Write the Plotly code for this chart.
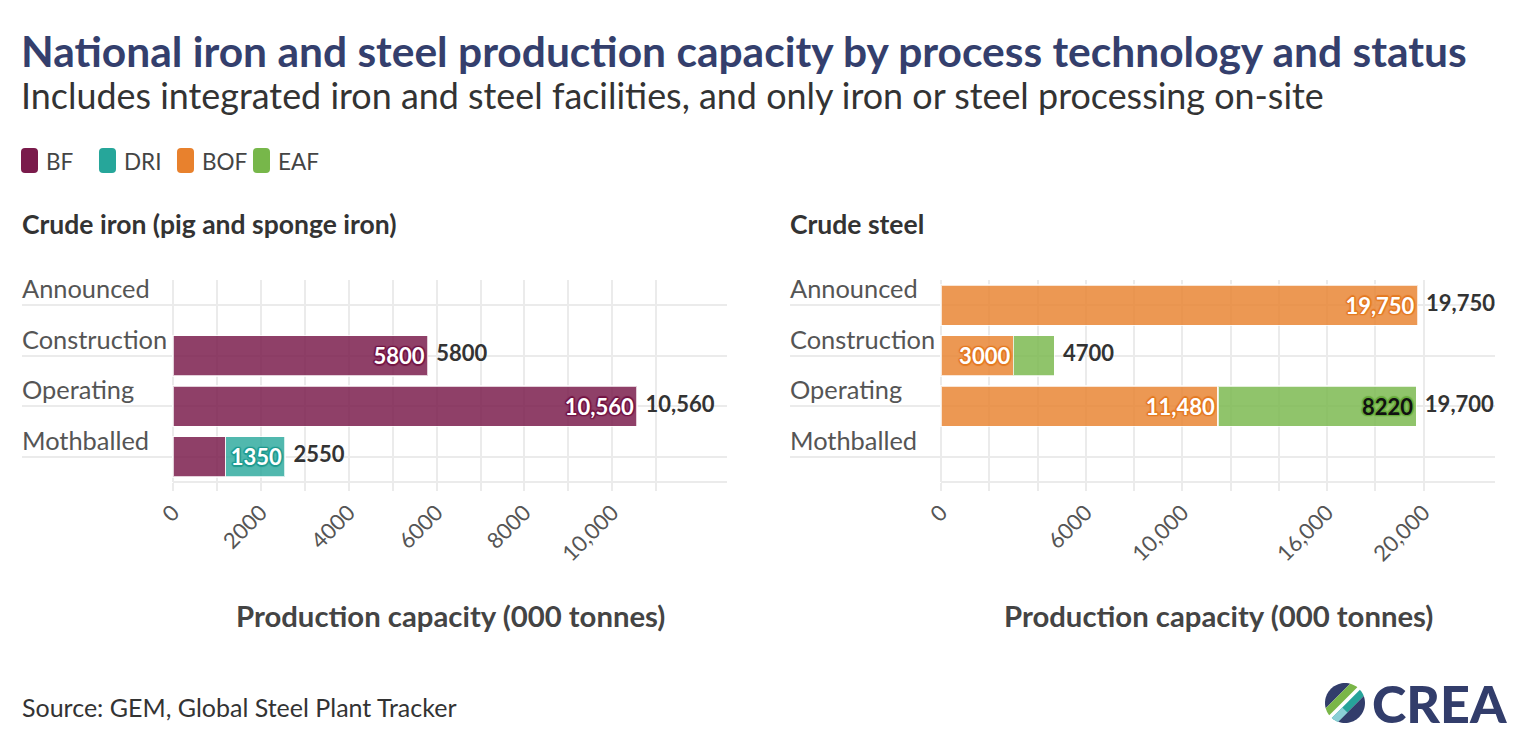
import math
import plotly.graph_objects as go

W, H = 1536, 756
FONT = "Lato"

# ---------------- data ----------------
statuses = ["Announced", "Construction", "Operating", "Mothballed"]

iron_bf = [None, 5800, 10560, 1200]
iron_dri = [None, None, None, 1350]
steel_bof = [19750, 3000, 11480, None]
steel_eaf = [None, 1700, 8220, None]

# whether a segment carries its own value label inside the bar
iron_bf_show = [False, True, True, False]
iron_dri_show = [False, False, False, True]
steel_bof_show = [True, True, True, False]
steel_eaf_show = [False, False, True, False]

iron_tickvals = [0, 1000, 2000, 3000, 4000, 5000, 6000, 7000, 8000, 9000, 10000, 11000]
iron_ticktext = ["0", "", "2000", "", "4000", "", "6000", "", "8000", "", "10,000", ""]
steel_tickvals = [0, 2000, 4000, 6000, 8000, 10000, 12000, 14000, 16000, 18000, 20000]
steel_ticktext = ["0", "", "", "6000", "", "10,000", "", "", "16,000", "", "20,000"]

COL = {"BF": "#7a1b4b", "DRI": "#26a69a", "BOF": "#e8812d", "EAF": "#77b74a"}
FILL = {"BF": "rgba(122,27,75,0.84)", "DRI": "rgba(38,166,154,0.80)",
        "BOF": "rgba(232,129,45,0.82)", "EAF": "rgba(119,183,74,0.82)"}
HALO = {"BF": "#741545", "DRI": "#1f9b90", "BOF": "#e47a22", "EAF": "#6aad3e"}


def fmt(v):
    return f"{v:,}" if v >= 10000 else str(v)


def labels(vals, show):
    return [fmt(v) if (v is not None and s) else "" for v, s in zip(vals, show)]


def totals(*series):
    out = []
    for i in range(len(statuses)):
        s = sum(v for v in (ser[i] for ser in series) if v is not None)
        out.append(s if s > 0 else None)
    return out


def px(x):
    return x / W


def py(y):
    return 1 - y / H


def halo(c):
    offs = [(1.5, 0), (-1.5, 0), (0, 1.5), (0, -1.5), (1, 1), (-1, -1), (1, -1), (-1, 1)]
    return ", ".join(f"{a}px {b}px 1px {c}" for a, b in offs)


GRID = "#ebebeb"
VAL_SIZE = 22

fig = go.Figure()


def add_bar(name, vals, show, xa, ya, textcolor="white"):
    fig.add_trace(go.Bar(
        y=statuses, x=vals, orientation="h", name=name,
        xaxis=xa, yaxis=ya,
        marker=dict(color=FILL[name], line=dict(color="rgba(255,255,255,0.75)", width=1.2)),
        text=labels(vals, show), textposition="inside", insidetextanchor="end",
        textangle=0, constraintext="none",
        insidetextfont=dict(family=FONT, size=VAL_SIZE, color=textcolor, weight="bold",
                            shadow=halo(HALO[name])),
        hoverinfo="x+y+name", showlegend=False,
    ))


add_bar("BF", iron_bf, iron_bf_show, "x", "y")
add_bar("DRI", iron_dri, iron_dri_show, "x", "y")
add_bar("BOF", steel_bof, steel_bof_show, "x2", "y2")
add_bar("EAF", steel_eaf, steel_eaf_show, "x2", "y2", textcolor="#111111")

for tot, xa, ya in [(totals(iron_bf, iron_dri), "x", "y"), (totals(steel_bof, steel_eaf), "x2", "y2")]:
    fig.add_trace(go.Scatter(
        y=statuses, x=tot, mode="markers+text", xaxis=xa, yaxis=ya,
        marker=dict(size=12, color="rgba(0,0,0,0)"),
        text=[fmt(v) if v is not None else "" for v in tot],
        textposition="middle right",
        textfont=dict(family=FONT, size=VAL_SIZE, color="#333333", weight="bold"),
        showlegend=False, hoverinfo="skip",
    ))

YDOM = [py(482), py(280)]
xcommon = dict(showgrid=True, gridcolor=GRID, gridwidth=2, zeroline=False, showline=False,
               tickmode="array", tickangle=-45, ticks="outside", ticklen=8, tickcolor=GRID, tickwidth=2,
               tickfont=dict(family=FONT, size=22, color="#555555"), fixedrange=True)
ycommon = dict(type="category", categoryorder="array", categoryarray=statuses,
               range=[3.5, -0.5], showgrid=True, gridcolor=GRID, gridwidth=2,
               showticklabels=False, ticks="", zeroline=False, showline=False, fixedrange=True)

fig.update_layout(
    width=W, height=H, margin=dict(l=0, r=0, t=0, b=0),
    paper_bgcolor="white", plot_bgcolor="white",
    barmode="stack", bargap=0.2, showlegend=False,
    font=dict(family=FONT, color="#333333"),
    xaxis=dict(domain=[px(22), px(727)], range=[-3436, 12609], anchor="y",
               tickvals=iron_tickvals, ticktext=iron_ticktext, **xcommon),
    xaxis2=dict(domain=[px(790), px(1495)], range=[-6258, 22959], anchor="y2",
                tickvals=steel_tickvals, ticktext=steel_ticktext, **xcommon),
    yaxis=dict(domain=YDOM, anchor="x", **ycommon),
    yaxis2=dict(domain=YDOM, anchor="x2", **ycommon),
)

shapes = []
# bottom baselines
shapes.append(dict(type="line", xref="x", yref="paper", x0=0, x1=12609, y0=YDOM[0], y1=YDOM[0],
                   line=dict(color=GRID, width=2), layer="below"))
shapes.append(dict(type="line", xref="x2", yref="paper", x0=0, x1=22959, y0=YDOM[0], y1=YDOM[0],
                   line=dict(color=GRID, width=2), layer="below"))


def rrect(x0, y0, x1, y1, r):
    X = lambda v: f"{px(v):.5f}"
    Y = lambda v: f"{py(v):.5f}"
    return (f"M {X(x0 + r)},{Y(y0)} L {X(x1 - r)},{Y(y0)} Q {X(x1)},{Y(y0)} {X(x1)},{Y(y0 + r)} "
            f"L {X(x1)},{Y(y1 - r)} Q {X(x1)},{Y(y1)} {X(x1 - r)},{Y(y1)} "
            f"L {X(x0 + r)},{Y(y1)} Q {X(x0)},{Y(y1)} {X(x0)},{Y(y1 - r)} "
            f"L {X(x0)},{Y(y0 + r)} Q {X(x0)},{Y(y0)} {X(x0 + r)},{Y(y0)} Z")


annotations = []
legend_items = [("BF", 21), ("DRI", 99), ("BOF", 177), ("EAF", 253)]
for name, x0 in legend_items:
    shapes.append(dict(type="path", xref="paper", yref="paper", path=rrect(x0, 148, x0 + 17, 173, 4),
                       fillcolor=COL[name], line=dict(width=0)))
    annotations.append(dict(x=px(x0 + 23), y=py(161), xref="paper", yref="paper", text=name,
                            showarrow=False, xanchor="left", yanchor="middle",
                            font=dict(family=FONT, size=22.5, color="#444444")))


# ---- logo icon (decorative) ----
def clip(poly, nx, ny, c, keep_ge):
    out = []
    n = len(poly)
    for i in range(n):
        a, b = poly[i], poly[(i + 1) % n]
        da = a[0] * nx + a[1] * ny - c
        db = b[0] * nx + b[1] * ny - c
        ina = da >= 0 if keep_ge else da <= 0
        inb = db >= 0 if keep_ge else db <= 0
        if ina:
            out.append(a)
        if ina != inb:
            t = da / (da - db)
            out.append((a[0] + t * (b[0] - a[0]), a[1] + t * (b[1] - a[1])))
    return out


cx, cy, rr = 1345, 703, 20
circle = [(cx + rr * math.cos(2 * math.pi * k / 72), cy + rr * math.sin(2 * math.pi * k / 72)) for k in range(72)]
s2 = 1 / math.sqrt(2)
bands = [(-1.1, -0.5, "#323d6b"), (-0.5, -0.12, "#7ab648"), (0.06, 0.42, "#27a39a"), (0.42, 1.1, "#323d6b")]
for u0, u1, colr in bands:
    p = clip(circle, s2, s2, (cx + cy) * s2 + u0 * rr, True)
    p = clip(p, s2, s2, (cx + cy) * s2 + u1 * rr, False)
    if len(p) > 2:
        path = "M " + " L ".join(f"{px(a):.5f},{py(b):.5f}" for a, b in p) + " Z"
        shapes.append(dict(type="path", xref="paper", yref="paper", path=path, fillcolor=colr, line=dict(width=0)))
p = clip(circle, s2, s2, (cx + cy) * s2 + 0.06 * rr, True)
p = clip(p, s2, s2, (cx + cy) * s2 + 0.42 * rr, False)
p = clip(p, s2, -s2, (cx - cy) * s2 - 0.25 * rr, False)
if len(p) > 2:
    path = "M " + " L ".join(f"{px(a):.5f},{py(b):.5f}" for a, b in p) + " Z"
    shapes.append(dict(type="path", xref="paper", yref="paper", path=path, fillcolor="#8bcfd6", line=dict(width=0)))


def ann(x, y, text, size, color="#333333", weight="normal", xanchor="left", **kw):
    annotations.append(dict(x=x, y=y, xref="paper", yref="paper", text=text, showarrow=False,
                            xanchor=xanchor, yanchor="middle",
                            font=dict(family=FONT, size=size, color=color, weight=weight), **kw))


ann(px(19), py(50), "National iron and steel production capacity by process technology and status", 42.5,
    color="#343f6d", weight="bold")
ann(px(19), py(95), "Includes integrated iron and steel facilities, and only iron or steel processing on-site", 35.9,
    color="#333333")
ann(px(20), py(224), "Crude iron (pig and sponge iron)", 26.5, weight="bold")
ann(px(788), py(224), "Crude steel", 26.5, weight="bold")
ann(px(450), py(615), "Production capacity (000 tonnes)", 29.3, color="#444444", weight="bold", xanchor="center")
ann(px(1218), py(615), "Production capacity (000 tonnes)", 29.3, color="#444444", weight="bold", xanchor="center")
ann(px(20), py(707), "Source: GEM, Global Steel Plant Tracker", 25, color="#333333")
ann(px(1370), py(703), "CREA", 52, color="#323d6b", weight=900)

for ya, xl in [("y", 20), ("y2", 788)]:
    for s in statuses:
        annotations.append(dict(x=px(xl), y=s, xref="paper", yref=ya, text=s, showarrow=False,
                                xanchor="left", yanchor="middle", yshift=17,
                                font=dict(family=FONT, size=25.4, color="#555555")))

fig.update_layout(shapes=shapes, annotations=annotations)
fig.write_html("out.html")
